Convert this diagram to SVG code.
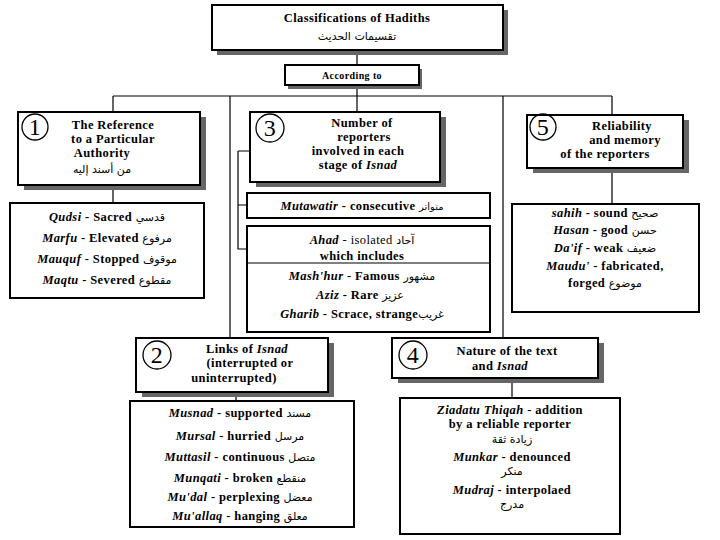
<svg xmlns="http://www.w3.org/2000/svg" width="720" height="540" viewBox="0 0 720 540">
<style>
text{font-family:"Liberation Serif","DejaVu Serif",serif;font-weight:bold;font-size:12.5px;fill:#000;text-anchor:middle;letter-spacing:0.4px}
.ar{font-family:"DejaVu Sans","Noto Sans",sans-serif;font-weight:normal;font-size:11px;letter-spacing:0}
.b{fill:#fff;stroke:#000;stroke-width:2}
.s{fill:#666}
.n{font-weight:normal;font-size:24px;text-anchor:middle}
.c{fill:none;stroke:#000;stroke-width:1.3}
.l{fill:none;stroke:#000;stroke-width:1.2}
</style>
<rect width="720" height="540" fill="#fff"/>
<g id="connectors" class="l">
<path d="M357 50V65M357 85V96M113 96H612M113 96V112M357 96V112M612 96V115M230 96V338M503 96V338M113 186V203M612 168V204M238 151H250M238 151V249H247M238 205H247M236 393V401M512 379V398"/>
</g>
<g id="title"><rect class="s" x="217" y="10" width="291" height="45"/><rect class="b" x="212" y="5" width="291" height="45"/>
<text x="357" y="22">Classifications of Hadiths</text><text class="ar" x="357" y="40" direction="rtl">تقسيمات الحديث</text></g>
<g id="according"><rect class="s" x="288" y="69" width="134" height="20"/><rect class="b" x="285" y="65" width="134" height="20"/><text x="352" y="79" style="font-size:10px">According to</text></g>
<g id="n1"><rect class="s" x="24" y="117" width="182" height="73"/><rect class="b" x="18" y="112" width="182" height="73"/>
<circle class="c" cx="35" cy="127" r="13"/><text class="n" x="35" y="135">1</text>
<text x="113" y="129">The Reference</text><text x="113" y="143">to a Particular</text><text x="102" y="157">Authority</text><text class="ar" x="102" y="173" direction="rtl">من أسند إليه</text></g>
<g id="n1list"><rect class="b" x="10" y="203" width="194" height="95"/>
<text x="107" y="221"><tspan font-style="italic">Qudsi</tspan> - Sacred <tspan class="ar">قدسي</tspan></text>
<text x="107" y="242"><tspan font-style="italic">Marfu</tspan> - Elevated <tspan class="ar">مرفوع</tspan></text>
<text x="107" y="263"><tspan font-style="italic">Mauquf</tspan> - Stopped <tspan class="ar">موقوف</tspan></text>
<text x="107" y="284"><tspan font-style="italic">Maqtu</tspan> - Severed <tspan class="ar">مقطوع</tspan></text></g>
<g id="n3"><rect class="s" x="256" y="117" width="190" height="70"/><rect class="b" x="250" y="112" width="190" height="70"/>
<circle class="c" cx="270" cy="128" r="14"/><text class="n" x="270" y="136">3</text>
<text x="362" y="127">Number of</text><text x="364" y="141">reporters</text><text x="358" y="155">involved in each</text><text x="358" y="169">stage of <tspan font-style="italic">Isnad</tspan></text></g>
<g id="n3a"><rect class="b" x="247" y="193" width="243" height="25"/>
<text x="362" y="210"><tspan font-style="italic">Mutawatir</tspan> - consecutive <tspan class="ar" style="font-size:10px">متواتر</tspan></text></g>
<g id="n3b"><rect class="b" x="247" y="226" width="243" height="106"/><line x1="247" y1="263" x2="490" y2="263" class="l"/>
<text x="362" y="244"><tspan font-style="italic">Ahad</tspan> <tspan font-weight="normal">- isolated</tspan> <tspan class="ar">آحاد</tspan></text>
<text x="362" y="260">which includes</text>
<text x="362" y="280"><tspan font-style="italic">Mash'hur</tspan> - Famous <tspan class="ar">مشهور</tspan></text>
<text x="360" y="299"><tspan font-style="italic">Aziz</tspan> - Rare <tspan class="ar">عزيز</tspan></text>
<text x="362" y="318"><tspan font-style="italic">Gharib</tspan> - Scrace, strange<tspan class="ar">غريب</tspan></text></g>
<g id="n5"><rect class="s" x="533" y="120" width="156" height="53"/><rect class="b" x="527" y="115" width="156" height="53"/>
<circle class="c" cx="543" cy="127" r="13"/><text class="n" x="543" y="135">5</text>
<text x="622" y="130">Reliability</text><text x="625" y="144">and memory</text><text x="605" y="158">of the reporters</text></g>
<g id="n5list"><rect class="b" x="512" y="204" width="187" height="108"/>
<text x="605" y="217"><tspan font-style="italic">sahih</tspan> - sound  <tspan class="ar">صحيح</tspan></text>
<text x="605" y="234"><tspan font-style="italic">Hasan</tspan> - good <tspan class="ar">حسن</tspan></text>
<text x="605" y="252"><tspan font-style="italic">Da'if</tspan> - weak <tspan class="ar">ضعيف</tspan></text>
<text x="605" y="270"><tspan font-style="italic">Maudu'</tspan> - fabricated,</text>
<text x="605" y="287">forged  <tspan class="ar">موضوع</tspan></text></g>
<g id="n2"><rect class="s" x="142" y="343" width="192" height="54"/><rect class="b" x="136" y="338" width="192" height="54"/>
<circle class="c" cx="157" cy="355" r="14"/><text class="n" x="157" y="363">2</text>
<text x="247" y="353">Links of <tspan font-style="italic">Isnad</tspan></text><text x="250" y="367">(interrupted or</text><text x="234" y="382">uninterrupted)</text></g>
<g id="n2list"><rect class="b" x="130" y="401" width="224" height="126"/>
<text x="240" y="417"><tspan font-style="italic">Musnad</tspan> - supported  <tspan class="ar">مسند</tspan></text>
<text x="240" y="440"><tspan font-style="italic">Mursal</tspan> - hurried  <tspan class="ar">مرسل</tspan></text>
<text x="240" y="461"><tspan font-style="italic">Muttasil</tspan> - continuous <tspan class="ar">متصل</tspan></text>
<text x="240" y="482"><tspan font-style="italic">Munqati</tspan> - broken  <tspan class="ar">منقطع</tspan></text>
<text x="240" y="501"><tspan font-style="italic">Mu'dal</tspan> - perplexing <tspan class="ar">معضل</tspan></text>
<text x="240" y="520"><tspan font-style="italic">Mu'allaq</tspan> - hanging  <tspan class="ar">معلق</tspan></text></g>
<g id="n4"><rect class="s" x="398" y="343" width="206" height="40"/><rect class="b" x="392" y="338" width="206" height="40"/>
<circle class="c" cx="413" cy="355" r="14"/><text class="n" x="413" y="363">4</text>
<text x="507" y="355">Nature of the text</text><text x="500" y="370">and <tspan font-style="italic">Isnad</tspan></text></g>
<g id="n4list"><rect class="b" x="400" y="398" width="220" height="136"/>
<text x="510" y="414"><tspan font-style="italic">Ziadatu Thiqah</tspan> - addition</text>
<text x="510" y="428">by a reliable reporter</text>
<text class="ar" x="512" y="443">زيادة ثقة</text>
<text x="512" y="461"><tspan font-style="italic">Munkar</tspan> - denounced</text>
<text class="ar" x="512" y="475">منكر</text>
<text x="512" y="494"><tspan font-style="italic">Mudraj</tspan> - interpolaed</text>
<text class="ar" x="512" y="508">مدرج</text></g>
</svg>
